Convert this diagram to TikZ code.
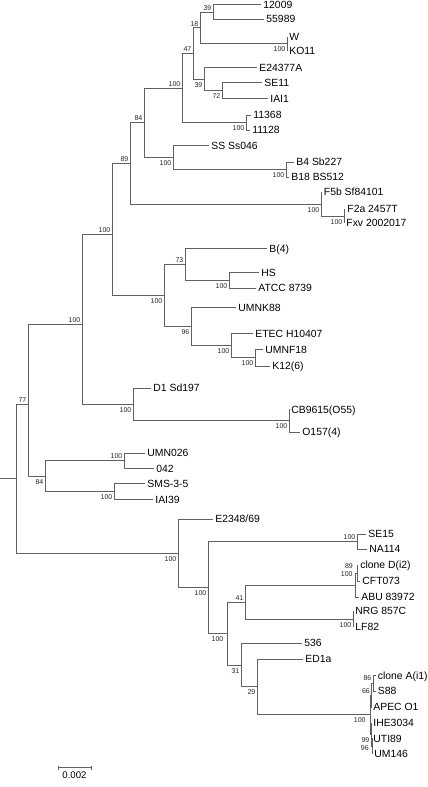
\documentclass[tikz,border=0pt]{standalone}
\usepackage{fontspec}
\setmainfont{Liberation Sans}

\begin{document}
\begin{tikzpicture}[x=1pt,y=-1pt]
		\tikzstyle{branch}=[draw=black!62,line width=0.85pt]
		\tikzstyle{taxon}=[anchor=west,inner xsep=2.2pt,inner ysep=0pt,text height=7.4pt,text depth=0pt,font=\fontsize{10.4}{12}\selectfont]
		\tikzstyle{boot}=[inner sep=0pt,font=\fontsize{7}{8}\selectfont,text=black!85]
		\tikzstyle{bootup}=[boot,xshift=-1.5pt,yshift=1.5pt]
		\tikzstyle{bootdn}=[boot,xshift=-1.5pt,yshift=-3pt]
		\tikzstyle{scalelabel}=[inner sep=0pt,font=\fontsize{9.6}{11}\selectfont]

		\useasboundingbox (0,0) rectangle (428,787);

		% top clade
		\node[taxon] (t12009) at (261,4.7) {12009};
		\node[taxon] (t55989) at (264,19.3) {55989};
		\node[taxon] (tW) at (287,36.5) {W};
		\node[taxon] (tKO) at (287,51) {KO11};
		\node[taxon] (tE24) at (257,67.7) {E24377A};
		\node[taxon] (tSE11) at (262,82.3) {SE11};
		\node[taxon] (tIAI1) at (268,98.3) {IAI1};
		\node[taxon] (t11368) at (251,115) {11368};
		\node[taxon] (t11128) at (250,130) {11128};
		\coordinate[label={[bootup]above left:39}] (n39a) at (213,12);
		\coordinate[label={[bootdn]below left:100}] (nKO) at (287,43.7);
		\coordinate[label={[bootup]above left:18}] (n18) at (200,27.9);
		\coordinate[label={[bootdn]below left:72}] (n72) at (222,90.3);
		\coordinate[label={[bootdn]below left:39}] (n39b) at (204,79);
		\coordinate[label={[bootup]above left:47}] (n47) at (193,53.5);
		\coordinate[label={[bootdn]below left:100}] (n11368) at (246,122.5);
		\coordinate[label={[bootup]above left:100}] (n100a) at (182,88);
		\draw[branch] (n39a) |- (t12009) (n39a) |- (t55989);
		\draw[branch] (nKO) |- (tW) (nKO) |- (tKO);
		\draw[branch] (n18) |- (n39a) (n18) |- (nKO);
		\draw[branch] (n72) |- (tSE11) (n72) |- (tIAI1);
		\draw[branch] (n39b) |- (tE24) (n39b) |- (n72);
		\draw[branch] (n47) |- (n18) (n47) |- (n39b);
		\draw[branch] (n11368) |- (t11368) (n11368) |- (t11128);
		\draw[branch] (n100a) |- (n47) (n100a) |- (n11368);

		% shigella
		\node[taxon] (tSS) at (209,145.5) {SS Ss046};
		\node[taxon] (tB4) at (294,162) {B4 Sb227};
		\node[taxon] (tB18) at (289,177) {B18 BS512};
		\node[taxon] (tF5b) at (321.5,192) {F5b Sf84101};
		\node[taxon] (tF2a) at (345,209) {F2a 2457T};
		\node[taxon] (tFxv) at (344,223) {Fxv 2002017};
		\coordinate[label={[bootdn]below left:100}] (nB4) at (286,169.5);
		\coordinate[label={[bootdn]below left:100}] (nSS) at (173,157.5);
		\coordinate[label={[bootup]above left:84}] (n84a) at (144,122.7);
		\coordinate[label={[bootdn]below left:100}] (nF2a) at (344,216);
		\coordinate[label={[bootdn]below left:100}] (nF5b) at (321,204);
		\coordinate[label={[bootup]above left:89}] (n89) at (130,163.3);
		\draw[branch] (nB4) |- (tB4) (nB4) |- (tB18);
		\draw[branch] (nSS) |- (tSS) (nSS) |- (nB4);
		\draw[branch] (n84a) |- (n100a) (n84a) |- (nSS);
		\draw[branch] (nF2a) |- (tF2a) (nF2a) |- (tFxv);
		\draw[branch] (nF5b) |- (tF5b) (nF5b) |- (nF2a);
		\draw[branch] (n89) |- (n84a) (n89) |- (nF5b);

		% B(4) to K12
		\node[taxon] (tBfour) at (267,248.3) {B(4)};
		\node[taxon] (tHS) at (259,272.7) {HS};
		\node[taxon] (tATCC) at (256,288) {ATCC 8739};
		\node[taxon] (tUMNK) at (236,307.3) {UMNK88};
		\node[taxon] (tETEC) at (253,333.3) {ETEC H10407};
		\node[taxon] (tUMNF) at (263,349.3) {UMNF18};
		\node[taxon] (tK12) at (270,366) {K12(6)};
		\coordinate[label={[bootdn]below left:100}] (nHS) at (229,280.3);
		\coordinate[label={[bootup]above left:73}] (n73) at (185,264.3);
		\coordinate[label={[bootdn]below left:100}] (nUMNF) at (255,357.7);
		\coordinate[label={[bootdn]below left:100}] (nETEC) at (231,345.5);
		\coordinate[label={[bootdn]below left:96}] (n96a) at (191,326.4);
		\coordinate[label={[bootdn]below left:100}] (n100d) at (164,295.7);
		\coordinate[label={[bootup]above left:100}] (n100c) at (112,234);
		\draw[branch] (nHS) |- (tHS) (nHS) |- (tATCC);
		\draw[branch] (n73) |- (tBfour) (n73) |- (nHS);
		\draw[branch] (nUMNF) |- (tUMNF) (nUMNF) |- (tK12);
		\draw[branch] (nETEC) |- (tETEC) (nETEC) |- (nUMNF);
		\draw[branch] (n96a) |- (tUMNK) (n96a) |- (nETEC);
		\draw[branch] (n100d) |- (n73) (n100d) |- (n96a);
		\draw[branch] (n100c) |- (n89) (n100c) |- (n100d);

		% D1, O157
		\node[taxon] (tD1) at (151,388) {D1 Sd197};
		\node[taxon] (tCB) at (289,409.3) {CB9615(O55)};
		\node[taxon] (tO157) at (300,432) {O157(4)};
		\coordinate[label={[bootdn]below left:100}] (nCB) at (289,420.7);
		\coordinate[label={[bootdn]below left:100}] (nD1) at (133,404);
		\coordinate[label={[bootup]above left:100}] (n100e) at (82,324);
		\draw[branch] (nCB) |- (tCB) (nCB) |- (tO157);
		\draw[branch] (nD1) |- (tD1) (nD1) |- (nCB);
		\draw[branch] (n100e) |- (n100c) (n100e) |- (nD1);

		% UMN026 to IAI39
		\node[taxon] (tUMN) at (145,453) {UMN026};
		\node[taxon] (t042) at (154,468.3) {042};
		\node[taxon] (tSMS) at (145,483.7) {SMS-3-5};
		\node[taxon] (tIAI39) at (153,499.3) {IAI39};
		\coordinate[label={[bootup]above left:100}] (nUMN) at (124,460.7);
		\coordinate[label={[bootdn]below left:100}] (nSMS) at (114,491.5);
		\coordinate[label={[bootdn]below left:84}] (n84b) at (45,476);
		\coordinate[label={[bootup]above left:77}] (n77) at (28,404);
		\draw[branch] (nUMN) |- (tUMN) (nUMN) |- (t042);
		\draw[branch] (nSMS) |- (tSMS) (nSMS) |- (tIAI39);
		\draw[branch] (n84b) |- (nUMN) (n84b) |- (nSMS);
		\draw[branch] (n77) |- (n100e) (n77) |- (n84b);

		% bottom clade
		\node[taxon] (tE2348) at (213,519) {E2348/69};
		\node[taxon] (tSE15) at (366,534) {SE15};
		\node[taxon] (tNA) at (367,549) {NA114};
		\node[taxon] (tcloneD) at (358,565) {clone D(i2)};
		\node[taxon] (tCFT) at (360,581) {CFT073};
		\node[taxon] (tABU) at (359,597) {ABU 83972};
		\node[taxon] (tNRG) at (353,611) {NRG 857C};
		\node[taxon] (tLF) at (353,627) {LF82};
		\node[taxon] (t536) at (302,643) {536};
		\node[taxon] (tED1a) at (303,659) {ED1a};
		\node[taxon] (tcloneA) at (375.5,675.5) {clone A(i1)};
		\node[taxon] (tS88) at (375.5,691) {S88};
		\node[taxon] (tAPEC) at (371,707) {APEC O1};
		\node[taxon] (tIHE) at (371,723) {IHE3034};
		\node[taxon] (tUTI) at (371,738.5) {UTI89};
		\node[taxon] (tUM) at (372,753.5) {UM146};
		\coordinate[label={[bootup]above left:100}] (nSE15) at (357,541.5);
		\coordinate[label={[bootup,xshift=-2.5pt,yshift=3pt]above left:89}] (n89b) at (357,573);
		\coordinate[label={[bootup,xshift=-0.7pt,yshift=7pt]above left:100}] (nCFT) at (355,585);
		\coordinate[label={[bootdn]below left:100}] (nNRG) at (353,619);
		\coordinate[label={[bootup]above left:41}] (n41) at (245,602);
		\coordinate[label={[bootup,yshift=1pt]above left:86}] (n86) at (373,683.3);
		\coordinate[label={[bootup]above left:66}] (n66) at (371.5,695);
		\coordinate[label={[bootdn,xshift=-1.6pt,yshift=3.5pt]below left:96}] (n96b) at (372,746);
		\coordinate[label={[bootdn]below left:99}] (n99) at (371,734.5);
		\coordinate[label={[bootdn,xshift=-2.7pt]below left:100}] (n100b) at (370,714.7);
		\coordinate[label={[bootdn]below left:29}] (n29) at (257,686.6);
		\coordinate[label={[bootdn]below left:31}] (n31) at (241,665);
		\coordinate[label={[bootdn,xshift=-2pt]below left:100}] (n100h) at (227,633.5);
		\coordinate[label={[bootdn]below left:100}] (n100g) at (208,587.5);
		\coordinate[label={[bootdn]below left:100}] (n100f) at (178,553);
		\draw[branch] (nSE15) |- (tSE15) (nSE15) |- (tNA);
		\draw[branch] (n89b) |- (tcloneD) (n89b) |- (tCFT);
		\draw[branch] (nCFT) |- (n89b) (nCFT) |- (tABU);
		\draw[branch] (nNRG) |- (tNRG) (nNRG) |- (tLF);
		\draw[branch] (n41) |- (nCFT) (n41) |- (nNRG);
		\draw[branch] (n86) |- (tcloneA) (n86) |- (tS88);
		\draw[branch] (n66) |- (n86) (n66) |- (tAPEC);
		\draw[branch] (n96b) |- (tUTI) (n96b) |- (tUM);
		\draw[branch] (n99) |- (tIHE) (n99) |- (n96b);
		\draw[branch] (n100b) |- (n66) (n100b) |- (n99);
		\draw[branch] (n29) |- (tED1a) (n29) |- (n100b);
		\draw[branch] (n31) |- (t536) (n31) |- (n29);
		\draw[branch] (n100h) |- (n41) (n100h) |- (n31);
		\draw[branch] (n100g) |- (nSE15) (n100g) |- (n100h);
		\draw[branch] (n100f) |- (tE2348) (n100f) |- (n100g);

		% root
		\coordinate (root) at (16,478.5);
		\coordinate (stub) at (0,478.5);
		\draw[branch] (root) |- (n77) (root) |- (n100f);
		\draw[branch] (stub) -- (root);

		% scale bar
		\coordinate (barl) at (58,767);
		\coordinate (barr) at (91,767);
		\draw[branch] (barl) -- (barr);
		\draw[branch] (barl) ++(0,-1.5) -- ++(0,4.5);
		\draw[branch] (barr) ++(0,-1.5) -- ++(0,4.5);
		\node[scalelabel] (barlabel) at (74.5,775.5) {0.002};
\end{tikzpicture}
\end{document}
